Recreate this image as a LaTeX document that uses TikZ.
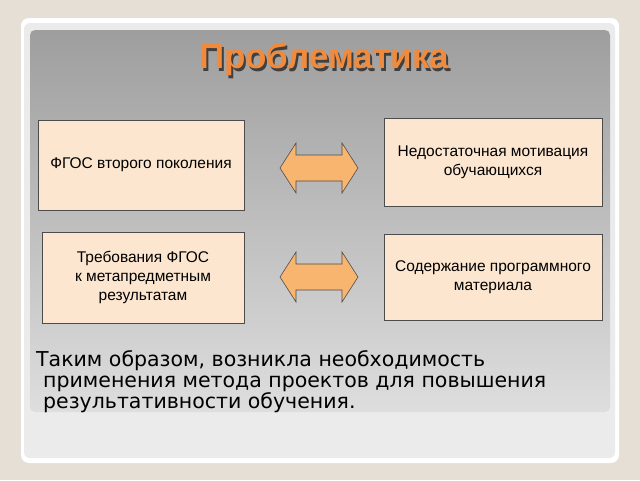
\documentclass[tikz,border=0pt]{standalone}
\usepackage{fontspec}
\setmainfont{Liberation Sans}
\newfontfamily\bodyfont{DejaVu Sans}
\begin{document}
\begin{tikzpicture}[x=1pt,y=-1pt,
  box/.style={draw=black!70,fill=boxc,line width=0.6pt,align=center,font=\fontsize{15.5}{19}\selectfont,inner sep=0pt},
  darr/.style={draw=black!70,fill=arrc,line width=0.6pt}]
\definecolor{boxc}{HTML}{FCE6CF}
\definecolor{arrc}{HTML}{F8B56F}
\definecolor{bgc}{HTML}{E5DFD5}
\definecolor{titc}{HTML}{F08A3C}
\useasboundingbox (0,0) rectangle (640,480);
\fill[bgc] (0,0) rectangle (640,480);
\fill[white,rounded corners=8pt] (21,18) rectangle (619,463);
\fill[black!8,rounded corners=6pt] (24,23) rectangle (615,458);
\shade[top color=black!38,bottom color=black!13,rounded corners=5pt] (30,30) rectangle (610,412);
\node[font=\bfseries\fontsize{35}{40}\selectfont] (title) at (324,61)
 {\rlap{\kern2pt\raisebox{-2.5pt}{\color{black!75}Проблематика}}\textcolor{titc}{Проблематика}};
\node[box,minimum width=206pt,minimum height=90pt] (l1) at (141,165) {ФГОС второго поколения};
\node[box,minimum width=218pt,minimum height=88pt] (r1) at (493,162) {Недостаточная мотивация\\обучающихся};
\node[box,minimum width=202pt,minimum height=91pt] (l2) at (143,277.5) {Требования ФГОС\\к метапредметным\\результатам};
\node[box,minimum width=218pt,minimum height=86pt] (r2) at (493,277) {Содержание программного\\материала};
\foreach \y in {168,277}{
  \draw[darr] (280,\y) -- (296,\y-25) -- (296,\y-13) -- (342,\y-13) -- (342,\y-25) -- (358,\y)
   -- (342,\y+25) -- (342,\y+13) -- (296,\y+13) -- (296,\y+25) -- cycle;
}
\node[anchor=north west,align=left,font=\bodyfont\fontsize{20.5}{21}\selectfont,inner sep=0pt] (txt) at (36,350)
 {Таким образом, возникла необходимость\\\hspace*{7pt}применения метода проектов для повышения\\\hspace*{7pt}результативности обучения.};
\end{tikzpicture}
\end{document}
